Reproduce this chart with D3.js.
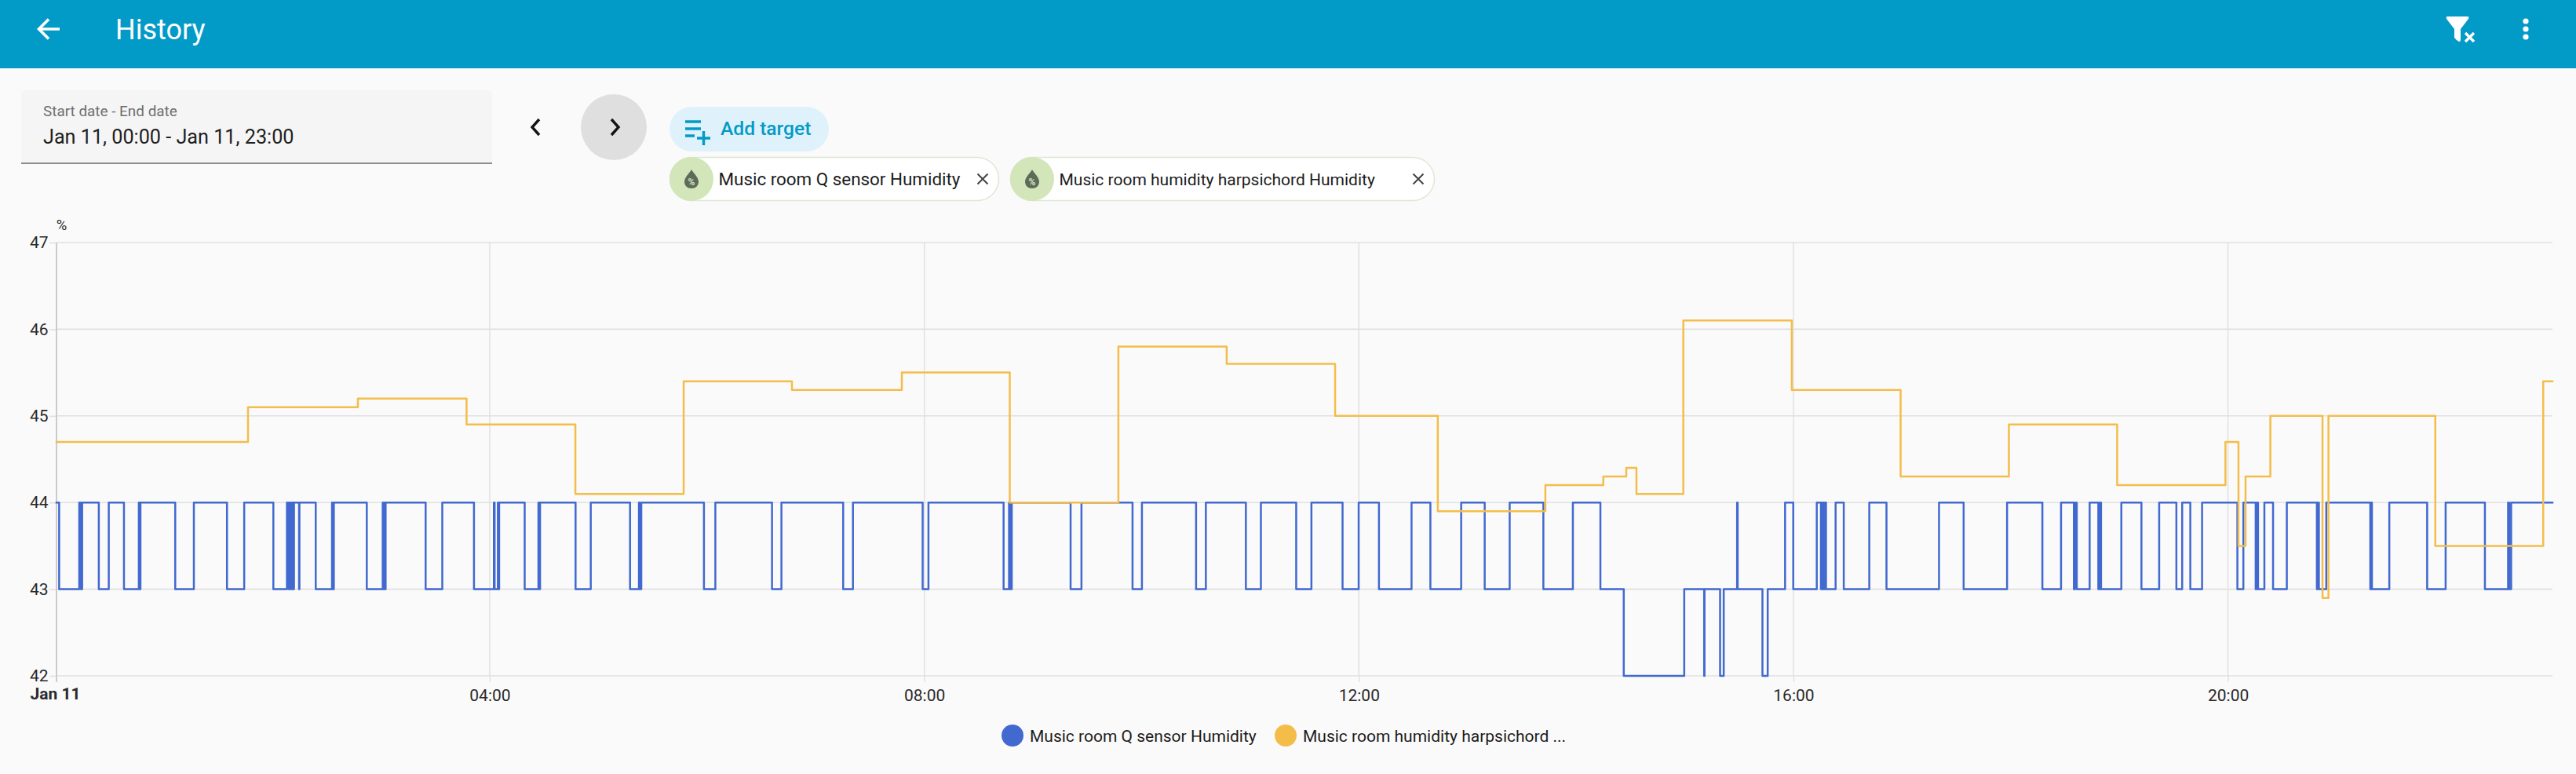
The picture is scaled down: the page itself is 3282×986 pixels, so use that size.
<!DOCTYPE html>
<html>
<head>
<meta charset="utf-8">
<title>History</title>
<script src="https://cdn.jsdelivr.net/npm/d3@7"></script>
<style>
  html, body { margin: 0; padding: 0; background: #fafafa; }
  svg { display: block; font-family: Roboto, sans-serif; }
</style>
</head>
<body>
<div id="page"></div>
<script>
// History panel: two humidity sensors plotted as step lines over one day.
const seriesNames = ["Music room Q sensor Humidity", "Music room humidity harpsichord Humidity"];
const legendLabels = ["Music room Q sensor Humidity", "Music room humidity harpsichord ..."];
const seriesColors = ["#4269d0", "#f4bd4a"];
const yTicks = [42, 43, 44, 45, 46, 47];
const xTickHours = [4, 8, 12, 16, 20];
const domainMinutes = [0.74, 1379.2];

// Minutes after midnight at which each sensor reported a new value.
const qSensorMinutes = [0.74, 2.2, 13.3, 14.2, 14.9, 24.1, 29.6, 38.0, 46.2, 46.7, 47.1, 66.3, 76.6, 94.9, 104.4, 120.5,
  128.0, 129.0, 129.5, 130.3, 130.8, 131.4, 131.9, 134.7, 134.9, 143.9, 152.9, 153.3, 153.9, 172.1, 180.9, 181.4,
  181.8, 182.1, 182.5, 204.6, 213.8, 231.3, 242.3, 242.7, 244.5, 244.9, 245.2, 259.3, 266.9, 267.3, 267.8, 287.4,
  295.8, 317.5, 322.4, 322.8, 323.7, 358.3, 364.6, 395.9, 401.1, 435.2, 440.6, 479.1, 482.3, 523.8, 526.8, 527.4,
  528.3, 560.8, 566.8, 595.0, 600.2, 630.1, 635.5, 657.6, 665.9, 685.4, 693.8, 711.0, 719.9, 731.1, 749.1, 759.5,
  776.5, 789.5, 803.3, 821.9, 838.2, 853.4, 866.3, 899.7, 910.7, 910.9, 919.5, 921.5, 928.9, 929.2, 942.9, 945.8,
  955.4, 959.9, 972.9, 975.2, 975.6, 976.1, 976.5, 976.9, 977.3, 978.0, 983.3, 987.8, 1001.9, 1011.4, 1040.4, 1054.0,
  1078.0, 1097.5, 1107.8, 1114.9, 1115.6, 1116.5, 1123.6, 1128.4, 1129.1, 1129.9, 1141.1, 1152.2, 1162.0, 1171.5,
  1174.7, 1179.2, 1185.7, 1205.2, 1208.5, 1215.3, 1216.0, 1216.6, 1220.1, 1224.9, 1232.5, 1249.1, 1249.6, 1250.2,
  1254.3, 1278.6, 1279.1, 1279.5, 1289.1, 1310.0, 1320.2, 1341.9, 1354.7, 1355.3, 1356.4, 1379.2];
const qSensorValues = [44, 43, 44, 43, 44, 43, 44, 43, 44, 43, 44, 43, 44, 43, 44, 43,
  44, 43, 44, 43, 44, 43, 44, 43, 44, 43, 44, 43, 44, 43, 44, 43,
  44, 43, 44, 43, 44, 43, 44, 43, 44, 43, 44, 43, 44, 43, 44, 43,
  44, 43, 44, 43, 44, 43, 44, 43, 44, 43, 44, 43, 44, 43, 44, 43,
  44, 43, 44, 43, 44, 43, 44, 43, 44, 43, 44, 43, 44, 43, 44, 43,
  44, 43, 44, 43, 44, 43, 42, 43, 42, 43, 42, 43, 44, 43, 42, 43,
  44, 43, 44, 43, 44, 43, 44, 43, 44, 43, 44, 43, 44, 43, 44, 43,
  44, 43, 44, 43, 44, 43, 44, 43, 44, 43, 44, 43, 44, 43,
  44, 43, 44, 43, 44, 43, 44, 43, 44, 43, 44, 43, 44, 43,
  44, 43, 44, 43, 44, 43, 44, 43, 44, 43, 44, 44];

const harpsichordMinutes = [0.74, 106.5, 167.2, 227.2, 287.3, 347.1, 406.9, 467.6, 527.2, 587.2, 647.0, 706.9, 763.6,
  823.0, 855.0, 867.7, 873.3, 899.2, 959.1, 1019.2, 1079.0, 1138.8, 1198.6, 1205.8, 1209.7, 1223.4, 1252.2, 1255.5,
  1314.5, 1374.1, 1379.2];
const harpsichordValues = [44.7, 45.1, 45.2, 44.9, 44.1, 45.4, 45.3, 45.5, 44.0, 45.8, 45.6, 45.0, 43.9,
  44.2, 44.3, 44.4, 44.1, 46.1, 45.3, 44.3, 44.9, 44.2, 44.7, 43.5, 44.3, 45.0, 42.9, 45.0,
  43.5, 45.4, 45.4];

const W = 3282, H = 986;
const plot = { left: 72, right: 3252, top: 309, bottom: 861 };
const dayStart = new Date(2025, 0, 11);
const at = m => new Date(+dayStart + m * 60000);

const svg = d3.select("#page").append("svg").attr("width", W).attr("height", H);
svg.append("rect").attr("width", W).attr("height", H).attr("fill", "#fafafa");

// Toolbar
const toolbar = svg.append("g");
toolbar.append("rect").attr("width", W).attr("height", 87).attr("fill", "#029ac7");
toolbar.append("path").attr("d", "M76 37H50M62 24.5L49.5 37L62 49.5")
  .attr("fill", "none").attr("stroke", "#fff").attr("stroke-width", 3.6);
toolbar.append("text").attr("x", 147).attr("y", 50).attr("fill", "#fff").attr("font-size", 36).text("History");
toolbar.append("path").attr("fill", "#fff")
  .attr("d", "M3118 21H3144Q3146 21 3145 24L3135 37V51Q3135 53 3133 53Q3130 52 3127 48V37L3117 24Q3116 21 3118 21Z");
toolbar.append("path").attr("d", "M3141 42L3152 53M3152 42L3141 53")
  .attr("fill", "none").attr("stroke", "#fff").attr("stroke-width", 3.4);
[27, 37, 47].forEach(y => toolbar.append("circle").attr("cx", 3218).attr("cy", y).attr("r", 3.6).attr("fill", "#fff"));

// Date range field
const dateField = svg.append("g");
dateField.append("path").attr("d", "M27 208V121Q27 115 33 115H621Q627 115 627 121V208Z").attr("fill", "#f5f5f5");
dateField.append("rect").attr("x", 27).attr("y", 207).attr("width", 600).attr("height", 2).attr("fill", "#8c8c8c");
dateField.append("text").attr("x", 55).attr("y", 148).attr("font-size", 18.9).attr("fill", "#6f6f6f").text("Start date - End date");
dateField.append("text").attr("x", 55).attr("y", 183).attr("font-size", 25.2).attr("fill", "#212121").text("Jan 11, 00:00 - Jan 11, 23:00");

// Previous and next buttons
svg.append("circle").attr("cx", 782).attr("cy", 162).attr("r", 42).attr("fill", "#dfdfdf");
const nav = svg.append("g").attr("fill", "none").attr("stroke", "#141414").attr("stroke-width", 3.4);
nav.append("path").attr("d", "M687 152L678 162L687 172");
nav.append("path").attr("d", "M779 152L788 162L779 172");

// Add target pill
const addTarget = svg.append("g");
addTarget.append("rect").attr("x", 853).attr("y", 136).attr("width", 203).attr("height", 57).attr("rx", 28.5).attr("fill", "#dff2fb");
addTarget.append("path").attr("d", "M873 155H893M873 164H893M873 173H885M888 176H905M896.5 167V185")
  .attr("fill", "none").attr("stroke", "#029ac7").attr("stroke-width", 3.4);
addTarget.append("text").attr("x", 918).attr("y", 172).attr("font-size", 24.6).attr("font-weight", 500)
  .attr("fill", "#029ac7").text("Add target");

// Target chips
const chipX = [[853, 1273], [1287, 1828]];
const chipFontSizes = [22.4, 21];
chipX.forEach(([x0, x1], i) => {
  const chip = svg.append("g");
  chip.append("rect").attr("x", x0 + 0.5).attr("y", 200.5).attr("width", x1 - x0 - 1).attr("height", 55)
    .attr("rx", 27.5).attr("fill", "#fff").attr("stroke", "#dfe8d3").attr("stroke-width", 1.5);
  chip.append("circle").attr("cx", x0 + 28).attr("cy", 228).attr("r", 28).attr("fill", "#d2e6b9");
  const cx = x0 + 28;
  chip.append("path").attr("fill", "#5f6b5a")
    .attr("d", `M${cx} 216C${cx + 3} 221 ${cx + 9} 226 ${cx + 9} 231.5C${cx + 9} 236.5 ${cx + 5} 240 ${cx} 240C${cx - 5} 240 ${cx - 9} 236.5 ${cx - 9} 231.5C${cx - 9} 226 ${cx - 3} 221 ${cx} 216Z`);
  chip.append("text").attr("x", cx).attr("y", 236).attr("text-anchor", "middle").attr("font-size", 12)
    .attr("font-weight", 700).attr("fill", "#d2e6b9").text("%");
  chip.append("text").attr("x", x0 + 62.5).attr("y", 236).attr("font-size", chipFontSizes[i]).attr("fill", "#1c1c1c").text(seriesNames[i]);
  const mx = x1 - 21;
  chip.append("path").attr("d", `M${mx - 6.5} 221.5L${mx + 6.5} 234.5M${mx + 6.5} 221.5L${mx - 6.5} 234.5`)
    .attr("fill", "none").attr("stroke", "#444").attr("stroke-width", 2);
});

// Chart scales and axes
const x = d3.scaleTime().domain(domainMinutes.map(at)).range([plot.left, plot.right]);
const y = d3.scaleLinear().domain([42, 47]).range([plot.bottom, plot.top]);

const xTickDates = xTickHours.map(h => at(h * 60));
const hourFormat = d3.timeFormat("%H:%M");

const gy = svg.append("g").attr("transform", `translate(${plot.left},0)`)
  .call(d3.axisLeft(y).tickValues(yTicks).tickSize(9).tickPadding(1).tickFormat(d3.format("d")));
gy.select(".domain").remove();
gy.selectAll("line").attr("stroke", "#e0e0e0").attr("stroke-width", 1.6);
gy.selectAll("text").attr("font-family", "Roboto, sans-serif").attr("font-size", 21).attr("fill", "#2a2a2a").attr("x", -10.5);

// Horizontal and vertical grid
svg.append("g").selectAll("line").data(yTicks).join("line")
  .attr("x1", plot.left).attr("x2", plot.right)
  .attr("y1", d => y(d)).attr("y2", d => y(d))
  .attr("stroke", "#e0e0e0").attr("stroke-width", 1.6);

const gx = svg.append("g").attr("transform", `translate(0,${plot.bottom})`)
  .call(d3.axisBottom(x).tickValues(xTickDates).tickSize(8).tickPadding(9).tickFormat(hourFormat));
gx.select(".domain").remove();
gx.selectAll("line").attr("stroke", "#e0e0e0").attr("stroke-width", 1.4);
gx.selectAll("text").attr("font-family", "Roboto, sans-serif").attr("font-size", 21).attr("fill", "#2a2a2a");

svg.append("g").selectAll("line").data(xTickDates).join("line")
  .attr("x1", d => x(d)).attr("x2", d => x(d))
  .attr("y1", plot.top).attr("y2", plot.bottom)
  .attr("stroke", "#e0e0e0").attr("stroke-width", 1.4);

// Start-of-day axis line and its bold date label
svg.append("line").attr("x1", plot.left).attr("x2", plot.left).attr("y1", plot.top).attr("y2", plot.bottom + 8)
  .attr("stroke", "#cbcbcb").attr("stroke-width", 2);
svg.append("text").attr("x", 70.5).attr("y", 891).attr("text-anchor", "middle").attr("font-size", 21)
  .attr("font-weight", 700).attr("fill", "#2a2a2a").text("Jan 11");
svg.append("text").attr("x", 78.5).attr("y", 293).attr("text-anchor", "middle").attr("font-size", 18.5)
  .attr("fill", "#2a2a2a").text("%");

// Step lines
const stepLine = d3.line().curve(d3.curveStepAfter).x(d => x(at(d[0]))).y(d => y(d[1]));
const seriesData = [d3.zip(qSensorMinutes, qSensorValues), d3.zip(harpsichordMinutes, harpsichordValues)];
svg.append("g").selectAll("path").data(seriesData).join("path")
  .attr("d", stepLine)
  .attr("fill", "none")
  .attr("stroke", (d, i) => seriesColors[i])
  .attr("stroke-width", 2.5)
  .attr("stroke-linejoin", "round")
  .attr("stroke-linecap", "square");

// Legend
const legendX = [[1290, 1312], [1638, 1660]];
const legend = svg.append("g").selectAll("g").data(legendLabels).join("g");
legend.append("circle").attr("cx", (d, i) => legendX[i][0]).attr("cy", 937).attr("r", 14).attr("fill", (d, i) => seriesColors[i]);
legend.append("text").attr("x", (d, i) => legendX[i][1]).attr("y", 945).attr("font-size", 21).attr("fill", "#1c1c1c").text(d => d);
</script>
</body>
</html>
